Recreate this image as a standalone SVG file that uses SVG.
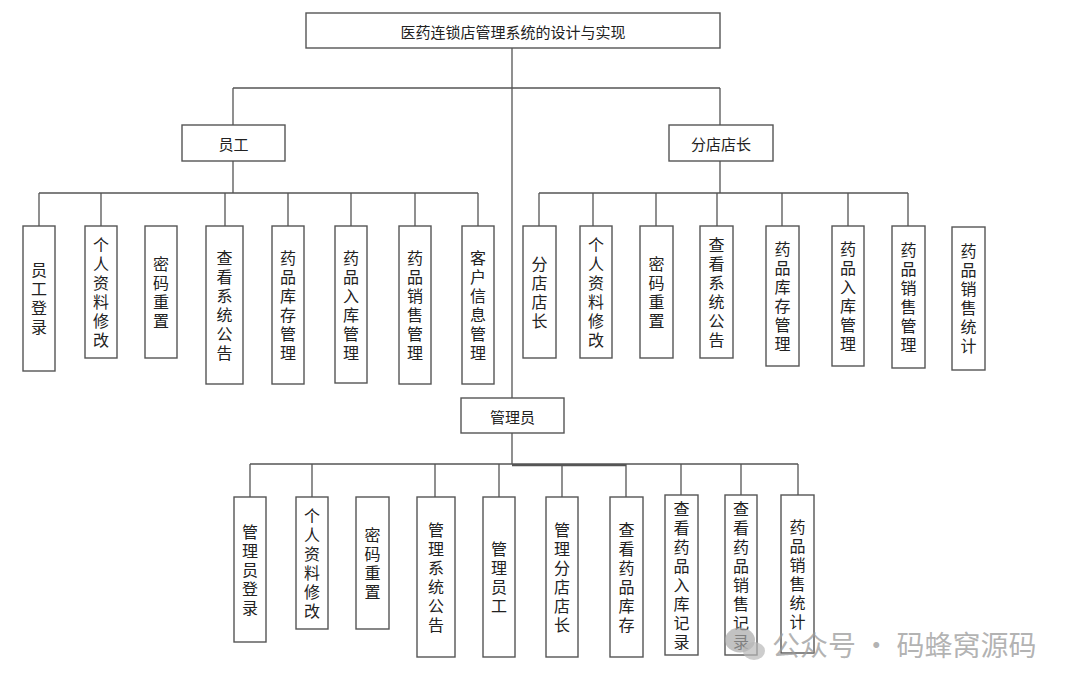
<svg xmlns="http://www.w3.org/2000/svg" width="1080" height="688" viewBox="0 0 1080 688">
<style>
.box{fill:#fff;stroke:#555;stroke-width:1.4}
.ln{stroke:#555;stroke-width:1.3;fill:none}
.t{font-family:"Noto Sans CJK SC","Noto Sans",sans-serif;font-size:15px;fill:#222;text-anchor:middle;dominant-baseline:central}
.v{font-family:"Noto Sans CJK SC","Noto Sans",sans-serif;font-size:16px;fill:#222;text-anchor:middle;writing-mode:vertical-rl;letter-spacing:3px}
.wm{font-family:"Noto Sans CJK SC",sans-serif;font-size:28px;fill:#9a9a9a;fill-opacity:0.75;dominant-baseline:central}
</style>
<rect width="1080" height="688" fill="#fff"/>
<g id="connectors">
<path class="ln" d="M512,48V398M233,88H720M233,88V125M720,88V125"/>
<path class="ln" d="M233,161V193M39,193H478M39,193V226M101,193V226M225,193V226M288,193V226M351,193V226M415,193V226M478,193V226"/>
<path class="ln" d="M720,161V193M539,193H908M539,193V226M593,193V226M656,193V226M717,193V226M782,193V226M848,193V226M908,193V226"/>
<path class="ln" d="M512,433V464M250,464H798M512,465.5H626M250,464V497M312,464V497M435,464V497M499,464V497M562,464V497M626,464V497M681,464V495M741,464V495M798,464V495"/>
</g>
<g id="root"><rect class="box" x="306" y="13" width="414" height="35"/><text class="t" x="513" y="31">医药连锁店管理系统的设计与实现</text></g>
<g id="yuangong"><rect class="box" x="182" y="125" width="103" height="36"/><text class="t" x="233.5" y="143">员工</text></g>
<g id="fendian"><rect class="box" x="669" y="125" width="104" height="36"/><text class="t" x="721" y="143">分店店长</text></g>
<g id="guanliyuan"><rect class="box" x="461" y="398" width="103" height="35"/><text class="t" x="512.5" y="416">管理员</text></g>

<g id="e1"><rect class="box" x="23" y="226" width="32" height="145"/><text class="v" x="39" y="300">员工登录</text></g>
<g id="e2"><rect class="box" x="85" y="226" width="32" height="132"/><text class="v" x="101" y="293.5">个人资料修改</text></g>
<g id="e3"><rect class="box" x="145" y="226" width="32" height="132"/><text class="v" x="161" y="293.5">密码重置</text></g>
<g id="e4"><rect class="box" x="206" y="226" width="37" height="158"/><text class="v" x="224.5" y="306.5">查看系统公告</text></g>
<g id="e5"><rect class="box" x="272" y="226" width="32" height="158"/><text class="v" x="288" y="306.5">药品库存管理</text></g>
<g id="e6"><rect class="box" x="335" y="226" width="32" height="157"/><text class="v" x="351" y="306.5">药品入库管理</text></g>
<g id="e7"><rect class="box" x="399" y="226" width="32" height="158"/><text class="v" x="415" y="306.5">药品销售管理</text></g>
<g id="e8"><rect class="box" x="462" y="226" width="32" height="158"/><text class="v" x="478" y="306.5">客户信息管理</text></g>

<g id="f1"><rect class="box" x="523" y="226" width="33" height="132"/><text class="v" x="539.5" y="293.5">分店店长</text></g>
<g id="f2"><rect class="box" x="580" y="226" width="32" height="132"/><text class="v" x="596" y="293.5">个人资料修改</text></g>
<g id="f3"><rect class="box" x="640" y="226" width="33" height="132"/><text class="v" x="656.5" y="293.5">密码重置</text></g>
<g id="f4"><rect class="box" x="700" y="226" width="33" height="132"/><text class="v" x="716.5" y="293.5">查看系统公告</text></g>
<g id="f5"><rect class="box" x="766" y="226" width="33" height="140"/><text class="v" x="782.5" y="297.5">药品库存管理</text></g>
<g id="f6"><rect class="box" x="832" y="226" width="32" height="140"/><text class="v" x="848" y="297.5">药品入库管理</text></g>
<g id="f7"><rect class="box" x="892" y="226" width="33" height="142"/><text class="v" x="908.5" y="298.5">药品销售管理</text></g>
<g id="f8"><rect class="box" x="952" y="227" width="33" height="143"/><text class="v" x="968.5" y="300">药品销售统计</text></g>

<g id="g1"><rect class="box" x="234" y="497" width="32" height="145"/><text class="v" x="250" y="571">管理员登录</text></g>
<g id="g2"><rect class="box" x="296" y="497" width="32" height="132"/><text class="v" x="312" y="564.5">个人资料修改</text></g>
<g id="g3"><rect class="box" x="356" y="497" width="33" height="132"/><text class="v" x="372.5" y="564.5">密码重置</text></g>
<g id="g4"><rect class="box" x="417" y="497" width="38" height="160"/><text class="v" x="436" y="578.5">管理系统公告</text></g>
<g id="g5"><rect class="box" x="483" y="497" width="32" height="160"/><text class="v" x="499" y="578.5">管理员工</text></g>
<g id="g6"><rect class="box" x="546" y="497" width="32" height="160"/><text class="v" x="562" y="578.5">管理分店店长</text></g>
<g id="g7"><rect class="box" x="610" y="497" width="33" height="160"/><text class="v" x="626.5" y="578.5">查看药品库存</text></g>
<g id="g8"><rect class="box" x="665" y="495" width="33" height="160"/><text class="v" x="681.5" y="576.5">查看药品入库记录</text></g>
<g id="g9"><rect class="box" x="725" y="495" width="32" height="160"/><text class="v" x="741" y="576.5">查看药品销售记录</text></g>
<g id="g10"><rect class="box" x="781" y="495" width="33" height="158"/><text class="v" x="797.5" y="575.5">药品销售统计</text></g>

<g id="watermark">
<ellipse cx="740" cy="640" rx="15" ry="12.5" fill="#a8a8a8" fill-opacity="0.7"/>
<ellipse cx="754" cy="651" rx="11" ry="9" fill="#b8b8b8" fill-opacity="0.7"/>
<text class="wm" x="772" y="644">公众号 · 码蜂窝源码</text>
</g>
</svg>
